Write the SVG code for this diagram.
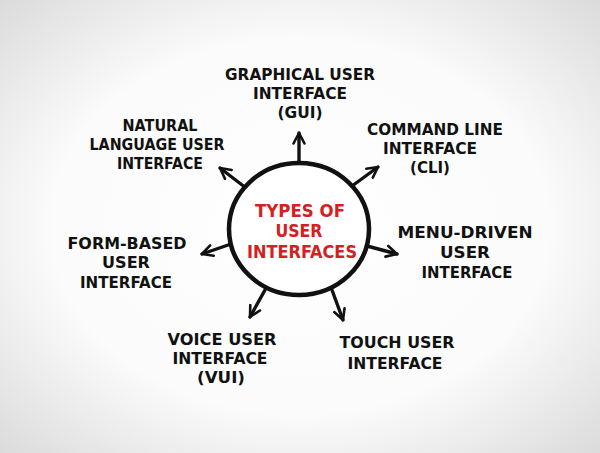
<svg xmlns="http://www.w3.org/2000/svg" width="600" height="453" viewBox="0 0 600 453">
<defs>
<radialGradient id="bg" cx="50%" cy="50%" r="75%">
<stop offset="0" stop-color="#ffffff"/>
<stop offset="0.55" stop-color="#fbfbfb"/>
<stop offset="1" stop-color="#d6d6d6"/>
</radialGradient>
<marker id="ah" viewBox="0 0 14 14" refX="12" refY="7" markerWidth="14" markerHeight="14" markerUnits="userSpaceOnUse" orient="auto">
<path d="M1.5,1.5 L12,7 L1.5,12.5" fill="none" stroke="#111" stroke-width="2.6" stroke-linecap="round" stroke-linejoin="round"/>
</marker>
<style>
.t{font-family:"DejaVu Sans","Liberation Sans",sans-serif;font-weight:bold;font-size:15px;fill:#111;text-anchor:middle}
.c{font-family:"DejaVu Sans","Liberation Sans",sans-serif;font-weight:bold;font-size:17px;fill:#d42020;text-anchor:middle}
.a{stroke:#111;stroke-width:3.4;fill:none;stroke-linecap:round;marker-end:url(#ah)}
</style>
</defs>
<rect width="600" height="453" fill="url(#bg)"/>
<g id="connectors">
<line class="a" x1="299" y1="162" x2="299" y2="133"/>
<line class="a" x1="352" y1="186" x2="378" y2="167"/>
<line class="a" x1="367" y1="246" x2="397" y2="254"/>
<line class="a" x1="246" y1="188" x2="220" y2="168"/>
<line class="a" x1="231" y1="244" x2="202" y2="254"/>
<line class="a" x1="265" y1="290" x2="250" y2="317"/>
<line class="a" x1="332" y1="290" x2="343" y2="320"/>
</g>
<g id="center">
<ellipse cx="299" cy="229" rx="70" ry="66" fill="#fff" stroke="#111" stroke-width="4.5"/>
<text class="c" x="300" y="217" textLength="90" lengthAdjust="spacingAndGlyphs">TYPES OF</text>
<text class="c" x="299" y="237" textLength="47" lengthAdjust="spacingAndGlyphs">USER</text>
<text class="c" x="302" y="258" textLength="110" lengthAdjust="spacingAndGlyphs">INTERFACES</text>
</g>
<g id="gui">
<text class="t" x="300" y="80" textLength="150" lengthAdjust="spacingAndGlyphs">GRAPHICAL USER</text>
<text class="t" x="300" y="99" textLength="94" lengthAdjust="spacingAndGlyphs">INTERFACE</text>
<text class="t" x="300" y="118" textLength="45" lengthAdjust="spacingAndGlyphs">(GUI)</text>
</g>
<g id="cli">
<text class="t" x="435" y="135" textLength="136" lengthAdjust="spacingAndGlyphs">COMMAND LINE</text>
<text class="t" x="430" y="154" textLength="94" lengthAdjust="spacingAndGlyphs">INTERFACE</text>
<text class="t" x="430" y="173" textLength="40" lengthAdjust="spacingAndGlyphs">(CLI)</text>
</g>
<g id="menu">
<text class="t" x="465" y="238" textLength="135" lengthAdjust="spacingAndGlyphs">MENU-DRIVEN</text>
<text class="t" x="465" y="258" textLength="50" lengthAdjust="spacingAndGlyphs">USER</text>
<text class="t" x="467" y="278" textLength="91" lengthAdjust="spacingAndGlyphs">INTERFACE</text>
</g>
<g id="natural">
<text class="t" x="160" y="131" textLength="75" lengthAdjust="spacingAndGlyphs">NATURAL</text>
<text class="t" x="157" y="150" textLength="135" lengthAdjust="spacingAndGlyphs">LANGUAGE USER</text>
<text class="t" x="160" y="169" textLength="86" lengthAdjust="spacingAndGlyphs">INTERFACE</text>
</g>
<g id="form">
<text class="t" x="127" y="249" textLength="119" lengthAdjust="spacingAndGlyphs">FORM-BASED</text>
<text class="t" x="126" y="268" textLength="48" lengthAdjust="spacingAndGlyphs">USER</text>
<text class="t" x="126" y="288" textLength="92" lengthAdjust="spacingAndGlyphs">INTERFACE</text>
</g>
<g id="voice">
<text class="t" x="222" y="345" textLength="109" lengthAdjust="spacingAndGlyphs">VOICE USER</text>
<text class="t" x="220" y="364" textLength="95" lengthAdjust="spacingAndGlyphs">INTERFACE</text>
<text class="t" x="221" y="383" textLength="48" lengthAdjust="spacingAndGlyphs">(VUI)</text>
</g>
<g id="touch">
<text class="t" x="397" y="348" textLength="115" lengthAdjust="spacingAndGlyphs">TOUCH USER</text>
<text class="t" x="395" y="369" textLength="95" lengthAdjust="spacingAndGlyphs">INTERFACE</text>
</g>
</svg>
